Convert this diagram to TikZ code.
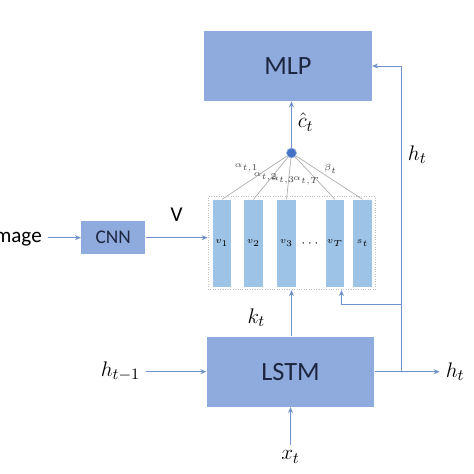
\documentclass[tikz,border=0pt]{standalone}
\usepackage{fontspec}
\setmainfont{Carlito}
\usetikzlibrary{arrows.meta, positioning}
\definecolor{blockblue}{RGB}{143,170,220}
\definecolor{barblue}{RGB}{157,195,230}
\definecolor{linkblue}{RGB}{112,146,204}
\definecolor{wiregray}{RGB}{175,175,175}
\definecolor{inkblue}{RGB}{28,38,64}
\definecolor{dotblue}{RGB}{68,114,196}

\begin{document}
\begin{tikzpicture}[
    >={Stealth[length=1.2mm, width=1mm]},
    block/.style={
        rectangle,
        minimum height=1.4cm,
        minimum width=3.35cm,
        fill=blockblue,
        text=inkblue,
        font=\fontsize{15}{18}\selectfont
    },
    small block/.style={
        rectangle,
        minimum height=0.66cm,
        minimum width=1.28cm,
        fill=blockblue,
        text=inkblue,
        font=\fontsize{11}{13}\selectfont
    },
    pool/.style={
        draw=wiregray!80,
        densely dotted,
        minimum width=3.34cm,
        minimum height=1.86cm,
        inner sep=0pt
    },
    bar/.style={
        rectangle,
        fill=barblue,
        minimum width=0.37cm,
        minimum height=1.74cm,
        inner sep=0pt,
        font=\fontsize{5}{6}\selectfont
    },
    junction/.style={circle, fill=dotblue, draw=dotblue!50, minimum size=0.2cm, inner sep=0pt},
    weight/.style={font=\fontsize{3.6}{4}\selectfont, text=black!70, inner sep=0pt},
    var/.style={font=\fontsize{13}{15}\selectfont},
    arrow/.style={->, draw=linkblue, line width=0.5pt},
    wire/.style={draw=wiregray, line width=0.4pt}
]
\useasboundingbox (-5.76,1.32) rectangle (3.72,-8.16);

\node[block] (mlp) at (0,0) {MLP};
\node[block, below=4.7cm of mlp, xshift=0.05cm] (lstm) {LSTM};
\node[pool, below=1.9cm of mlp, xshift=0.07cm] (frame) {};

\foreach \i/\dx/\v in {1/-1.39/v_1, 2/-0.76/v_2, 3/-0.10/v_3, 4/0.87/v_T, 5/1.42/s_t}
    \node[bar] (bar\i) at ([xshift=\dx cm]frame.center) {$\v$};
\node[font=\fontsize{7}{8}\selectfont] (dots) at ([xshift=0.37cm]frame.center) {$\cdots$};

\node[junction, above=0.76cm of frame] (sum) {};
\foreach \i in {1,...,5}
    \draw[wire] (sum) -- (bar\i.north);
\foreach \i/\dx/\dy/\w in {1/-0.90/-0.30/{\alpha_{t,1}}, 2/-0.52/-0.48/{\alpha_{t,2}}, 3/-0.17/-0.55/{\alpha_{t,3}}, 4/0.30/-0.55/{\alpha_{t,T}}, 5/0.78/-0.32/{\beta_t}}
    \node[weight] (w\i) at ([shift={(\dx,\dy)}]sum.center) {$\w$};

\node[small block, left=1.24cm of frame, yshift=0.11cm] (cnn) {CNN};
\node[left=0.66cm of cnn, font=\fontsize{12}{14}\selectfont] (image) {Image};

\node[var, left=1.2cm of lstm] (hprev) {$h_{t-1}$};
\node[var, right=1.3cm of lstm] (hnext) {$h_t$};
\node[var, below=0.75cm of lstm] (xt) {$x_t$};
\coordinate[right=0.54cm of lstm.east] (split);
\coordinate (gate) at ([xshift=1cm]frame.south);

\draw[arrow] (image) -- (cnn);
\draw[arrow] (cnn) -- node[above=2mm, font=\fontsize{12}{14}\selectfont] (vlab) {V} (cnn -| frame.west);
\draw[arrow] (hprev) -- (lstm);
\draw[arrow] (xt) -- (lstm);
\draw[arrow] (lstm) -- (hnext);
\draw[arrow] (frame.south |- lstm.north) -- node[var, left=4mm, pos=0.4] (kt) {$k_t$} (frame.south);
\draw[arrow] (sum) -- node[var, right, pos=0.55] (ct) {$\hat{c}_t$} (sum |- mlp.south);
\draw[arrow] (split) |- node[var, right, pos=0.355] (hup) {$h_t$} (mlp.east);
\draw[arrow] (split) |- ([yshift=-0.28cm]gate) -- (gate);

\end{tikzpicture}
\end{document}
